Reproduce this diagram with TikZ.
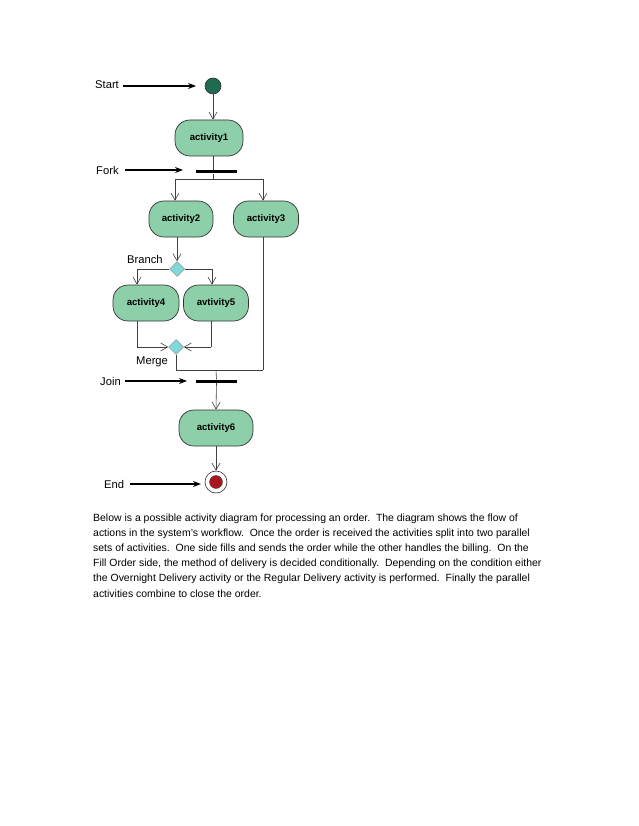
\documentclass[tikz,border=0pt]{standalone}
\usepackage{fontspec}
\setmainfont{Liberation Sans}
\usetikzlibrary{arrows.meta,shapes.geometric}
\definecolor{actfill}{HTML}{8CCFA8}
\definecolor{startfill}{HTML}{1F6B50}
\definecolor{endfill}{HTML}{A81620}
\definecolor{diafill}{HTML}{80D8DA}
\definecolor{flowline}{HTML}{404040}
\tikzset{
  act/.style={draw=black!80, fill=actfill, rounded corners=15pt, minimum height=36pt,
    inner sep=0pt, font=\fontsize{9.6}{10}\selectfont\bfseries, line width=0.7pt},
  dia/.style={draw=black!45, fill=diafill, diamond, inner sep=0pt, minimum width=15pt, minimum height=15pt, line width=0.5pt},
  bar/.style={fill=black, inner sep=0pt, minimum height=3pt, minimum width=41pt},
  flow/.style={draw=flowline, line width=0.6pt},
  flowa/.style={flow, -{Straight Barb[length=7pt,width=8pt,line width=0.6pt]}},
  lab/.style={font=\fontsize{11.2}{13}\selectfont, inner sep=0pt},
  pointer/.style={draw=black, line width=1.2pt, -{Stealth[length=8pt,width=6pt]}},
  para/.style={font=\fontsize{10.45}{12}\selectfont, inner sep=0pt, anchor=base west}
}
\begin{document}
\begin{tikzpicture}[x=1pt,y=-1pt]
\useasboundingbox (0,0) rectangle (638,826);
% nodes
\node[circle, draw=black!80, fill=startfill, minimum size=16pt, inner sep=0pt, line width=0.6pt] (start) at (213,86) {};
\node[act, minimum width=68pt] (a1) at (209,138) {activity1};
\node[bar] (fork) at (216.5,172) {};
\node[act, minimum width=64pt] (a2) at (181,219) {activity2};
\node[act, minimum width=65pt] (a3) at (266,219) {activity3};
\node[dia] (branch) at (177,269) {};
\node[act, minimum width=66pt] (a4) at (146,303) {activity4};
\node[act, minimum width=65pt] (a5) at (216,303) {avtivity5};
\node[dia] (merge) at (176,347) {};
\node[bar] (join) at (216.5,381) {};
\node[act, minimum width=74pt] (a6) at (216,428) {activity6};
\node[circle, draw=black!80, fill=white, minimum size=22pt, inner sep=0pt, line width=0.6pt] (endo) at (216,482) {};
\node[circle, draw=black!70, fill=endfill, minimum size=13pt, inner sep=0pt, line width=0.4pt] (endi) at (216,482) {};
% coordinates
\coordinate (fsplit) at (213,179);
\coordinate (fl) at (175,179);
\coordinate (fr) at (263,179);
\coordinate (bl) at (137,269);
\coordinate (br) at (212,269);
\coordinate (m4) at (137,347);
\coordinate (m5) at (211,347);
\coordinate (mj) at (176,370);
\coordinate (jr) at (263,370);
\coordinate (jm) at (216,370);
% flow connectors
\draw[flowa] (start.south) -- (start.south |- a1.north);
\draw[flow] (a1.south -| start) -- (fork.north -| start);
\draw[flow] (fork.south -| start) -- (fsplit);
\draw[flow] (fl) -- (fr);
\draw[flowa] (fl) -- (fl |- a2.north);
\draw[flowa] (fr) -- (fr |- a3.north);
\draw[flowa] (a2.south -| branch) -- (branch.north);
\draw[flow] (branch.west) -- (bl);
\draw[flowa] (bl) -- (bl |- a4.north);
\draw[flow] (branch.east) -- (br);
\draw[flowa] (br) -- (br |- a5.north);
\draw[flow] (a4.south -| m4) -- (m4);
\draw[flowa] (m4) -- (merge.west);
\draw[flow] (a5.south -| m5) -- (m5);
\draw[flowa] (m5) -- (merge.east);
\draw[flow] (merge.south) -- (mj) -- (jr);
\draw[flow] (a3.south -| jr) -- (jr);
\draw[flow] (jm) -- (join.north);
\draw[flowa] (join.south) -- (a6.north);
\draw[flowa] (a6.south -| endo) -- (endo.north);
% labels and pointers
\node[lab, anchor=west] (lstart) at (95,85) {Start};
\coordinate (pstart) at (196,86);
\draw[pointer] (123,86) -- (pstart);
\node[lab, anchor=west] (lfork) at (96,170) {Fork};
\coordinate (pfork) at (183,170);
\draw[pointer] (125,170) -- (pfork);
\node[lab, anchor=west] (lbranch) at (127,259) {Branch};
\node[lab, anchor=west] (lmerge) at (136,362) {Merge};
\node[lab, anchor=west] (ljoin) at (100,381) {Join};
\coordinate (pjoin) at (187,381);
\draw[pointer] (125,381) -- (pjoin);
\node[lab, anchor=west] (lend) at (104,484) {End};
\coordinate (pend) at (201,484);
\draw[pointer] (130,484) -- (pend);
% paragraph
\node[para] (p1) at (93,521) {Below is a possible activity diagram for processing an order.\ \ The diagram shows the flow of};
\node[para] (p2) at (93,536.2) {actions in the system's workflow.\ \ Once the order is received the activities split into two parallel};
\node[para] (p3) at (93,551.4) {sets of activities.\ \ One side fills and sends the order while the other handles the billing.\ \ On the};
\node[para] (p4) at (93,566.6) {Fill Order side, the method of delivery is decided conditionally.\ \ Depending on the condition either};
\node[para] (p5) at (93,581.8) {the Overnight Delivery activity or the Regular Delivery activity is performed.\ \ Finally the parallel};
\node[para] (p6) at (93,597) {activities combine to close the order.};
\end{tikzpicture}
\end{document}
